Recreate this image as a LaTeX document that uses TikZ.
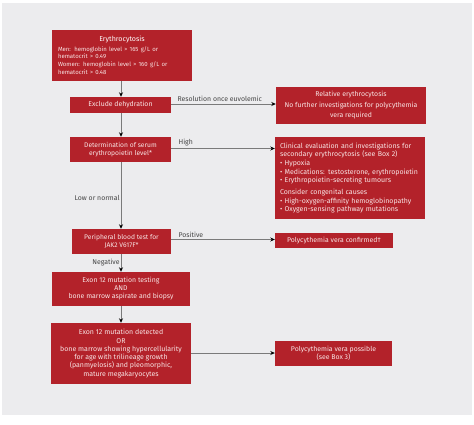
\documentclass[tikz,border=0pt]{standalone}
\usepackage{fontspec}
\setmainfont{Fira Sans}
\usetikzlibrary{arrows.meta}
\definecolor{boxred}{HTML}{B3222A}
\definecolor{bgcol}{HTML}{ECECEE}
\definecolor{linecol}{HTML}{7A7A7A}
\definecolor{labcol}{HTML}{454545}
\definecolor{pinkw}{HTML}{F8E4E4}
\newcommand{\fsz}[2]{\fontsize{#1}{#2}\selectfont}
\tikzset{
  redbox/.style={fill=boxred, text=pinkw, inner sep=0pt, align=center, font=\fsz{6.9pt}{8pt}},
  flow/.style={draw=linecol, line width=0.8pt, -{Stealth[color=black,length=4.5pt,width=4pt]}},
  lab/.style={text=labcol, font=\fsz{6.9pt}{8pt}, inner sep=1pt}
}
\begin{document}
\begin{tikzpicture}[x=1pt,y=-1pt]
\useasboundingbox (0,0) rectangle (474,424);
\fill[bgcol] (2,3) rectangle (472,415);

\node[redbox, minimum width=140pt, minimum height=51pt, text width=128pt, align=left] (ery) at (122,55.5)
  {{\centering\fsz{7.1pt}{9pt}\color{white}Erythrocytosis\par}\vspace{2pt}\fsz{6pt}{7.5pt}
   Men: hemoglobin level > 165 g/L or\\ hematocrit > 0.49\\ Women: hemoglobin level > 160 g/L or\\ hematocrit > 0.48};

\node[redbox, minimum width=101pt, minimum height=16pt] (dehyd) at (120.5,105) {Exclude dehydration};

\node[redbox, minimum width=150pt, minimum height=37pt, font=\fsz{6.9pt}{10.5pt}] (rel) at (351,105.5)
  {Relative erythrocytosis\\ No further investigations for polycythemia\\ vera required};

\node[redbox, minimum width=101pt, minimum height=25pt, font=\fsz{6.7pt}{7.6pt}] (epo) at (120.5,149.5)
  {Determination of serum\\ erythropoietin level*};

\node[redbox, minimum width=150pt, minimum height=82pt, text width=140pt, align=left, font=\fsz{7pt}{8.7pt}] (clin) at (350,178)
  {Clinical evaluation and investigations for\\ secondary erythrocytosis (see Box 2)\\
   • Hypoxia\\ • Medications: testosterone, erythropoietin\\ • Erythropoietin-secreting tumours\\[3pt]
   Consider congenital causes\\ • High-oxygen-affinity hemoglobinopathy\\ • Oxygen-sensing pathway mutations};

\node[redbox, minimum width=99pt, minimum height=25pt, font=\fsz{6.7pt}{7.6pt}] (jak) at (121.5,241.5)
  {Peripheral blood test for\\ JAK2 V617F*};

\node[redbox, minimum width=118pt, minimum height=15pt] (pvc) at (334,240.5) {Polycythemia vera confirmed†};

\node[redbox, minimum width=138pt, minimum height=34pt] (ex12) at (121,289)
  {Exon 12 mutation testing\\ AND\\ bone marrow aspirate and biopsy};

\node[redbox, minimum width=140pt, minimum height=61pt, font=\fsz{7pt}{8.3pt}] (exdet) at (121,353.5)
  {Exon 12 mutation detected\\ OR\\ bone marrow showing hypercellularity\\ for age with trilineage growth\\ (panmyelosis) and pleomorphic,\\ mature megakaryocytes};

\node[redbox, minimum width=117pt, minimum height=25pt] (pvp) at (333.5,353.5)
  {Polycythemia vera possible\\ (see Box 3)};

% vertical flow
\draw[flow] (ery.south -| 121,0) -- (dehyd.north -| 121,0);
\draw[flow] (dehyd.south -| 121,0) -- (epo.north -| 121,0);
\draw[flow] (epo.south -| 121,0) -- node[lab, left, pos=0.53] {Low or normal} (jak.north -| 121,0);
\draw[flow] (jak.south -| 121,0) -- node[lab, left, pos=0.45] {Negative} (ex12.north -| 121,0);
\draw[flow] (ex12.south -| 121,0) -- (exdet.north -| 121,0);

% horizontal flow
\draw[flow] (dehyd.east |- 0,104) -- node[lab, pos=0, above right, xshift=5pt, yshift=1pt] {Resolution once euvolemic} (rel.west |- 0,104);
\draw[flow] (epo.east |- 0,148.5) -- node[lab, pos=0, above right, xshift=6pt, yshift=1pt] {High} (clin.west |- 0,148.5);
\draw[flow] (jak.east |- 0,239.5) -- node[lab, pos=0, above right, xshift=6pt, yshift=1pt] {Positive} (pvc.west |- 0,239.5);
\draw[flow] (exdet.east |- 0,353) -- (pvp.west |- 0,353);
\end{tikzpicture}
\end{document}
